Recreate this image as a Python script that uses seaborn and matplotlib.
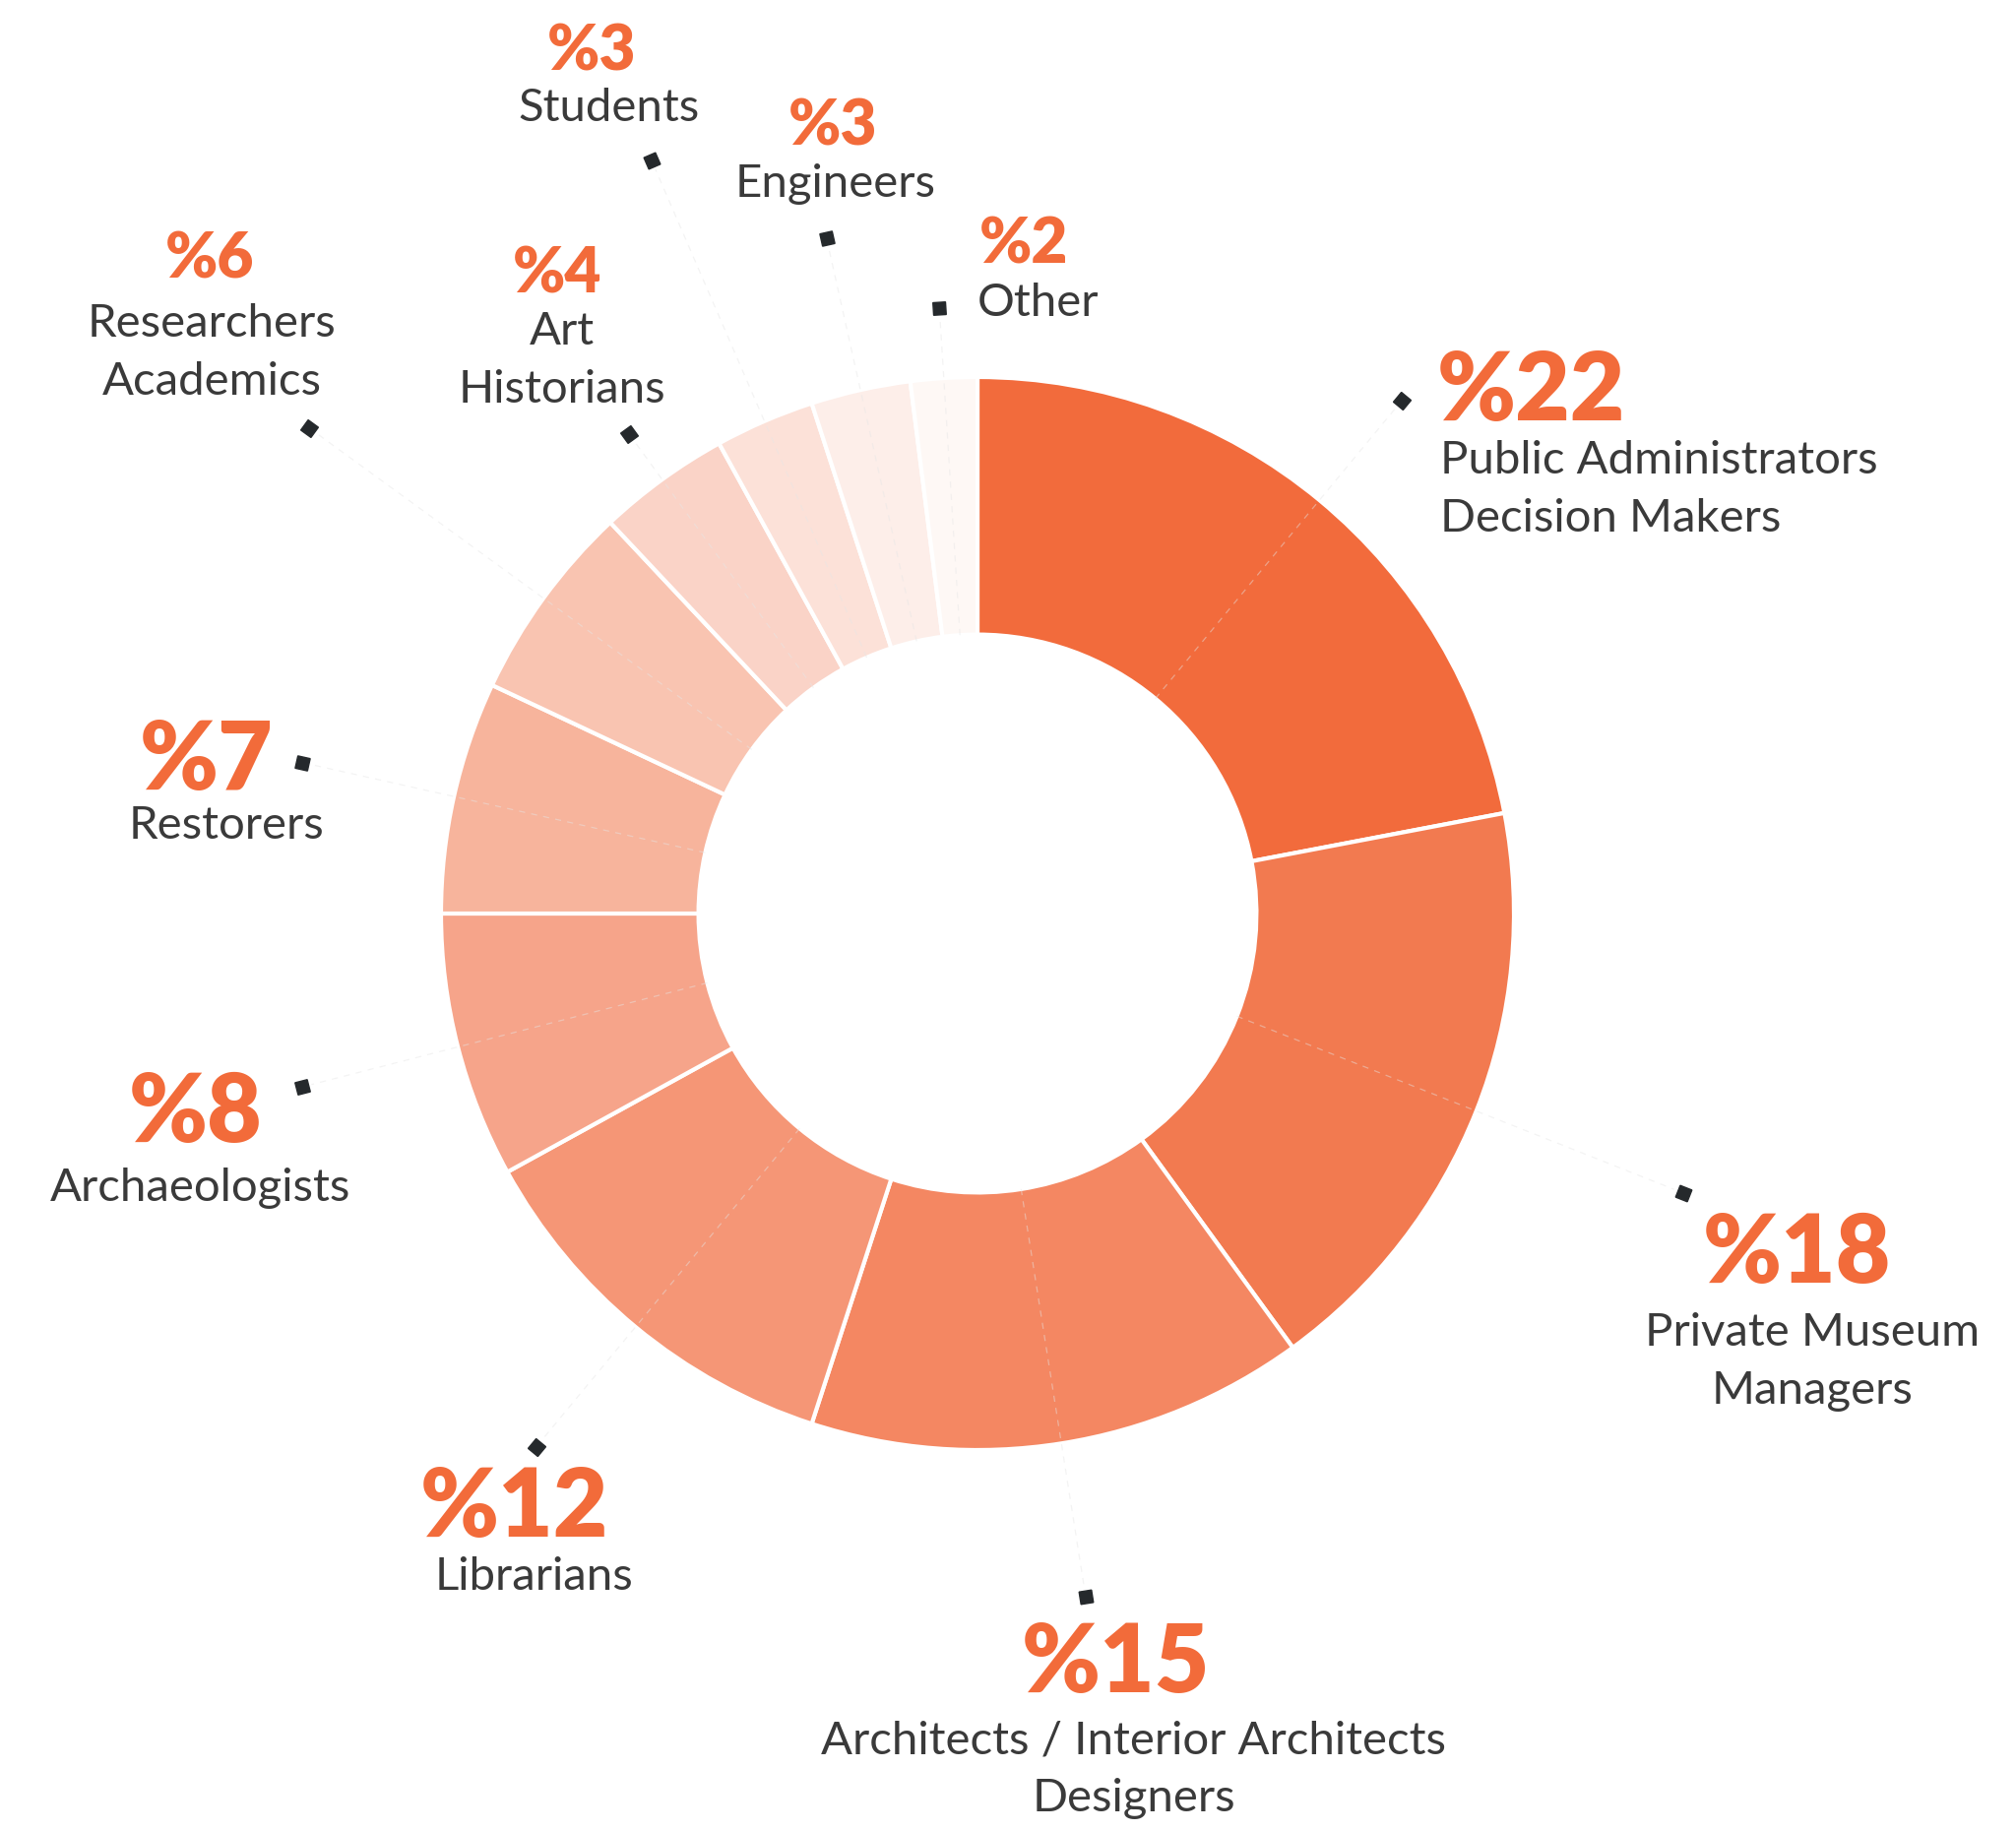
import numpy as np
import matplotlib
matplotlib.use("Agg")
import matplotlib.pyplot as plt
import seaborn as sns

# ---------------- data ----------------
categories = [
    "Public Administrators\nDecision Makers",
    "Private Museum\nManagers",
    "Architects / Interior Architects\nDesigners",
    "Librarians",
    "Archaeologists",
    "Restorers",
    "Researchers\nAcademics",
    "Art\nHistorians",
    "Students",
    "Engineers",
    "Other",
]
values = [22, 18, 15, 12, 8, 7, 6, 4, 3, 3, 2]

# ---------------- style / layout ----------------
colors = ["#F26B3C", "#F27A50", "#F48762", "#F59676", "#F6A48A", "#F7B49C",
          "#F9C4B1", "#FAD3C7", "#FCE1D8", "#FDEEE9", "#FEF8F5"]
W, H = 2048, 1860
CX, CY = 993, 928           # centre in image pixels (top origin)
R = 545
HOLE = 0.52
marker_r = [1.24, 1.415, 1.29, 1.29, 1.30, 1.29, 1.54, 1.105, 1.53, 1.29, 1.13]
pct_pos = [(1460, 427), (1825, 1303), (1133, 1719), (522, 1561), (199, 1160),
           (210, 802), (213, 283), (566, 298), (601, 72), (846, 148), (995, 268)]
lab_pos = [(1463, 481), (1841, 1367), (1152, 1781), (542, 1615), (204, 1220),
           (230, 852), (215, 342), (571, 350), (619, 123), (849, 200), (993, 321)]
align = ["left", "center", "center", "center", "center", "center",
         "center", "center", "center", "center", "left"]
big = [True, True, True, True, True, True, False, False, False, False, False]
LINE_STEP = 59

ORANGE = "#F26B3A"
DARK = "#3A3A3A"

sns.set_theme(style="white")
plt.rcParams["font.family"] = ["Lato", "DejaVu Sans"]

fig = plt.figure(figsize=(W / 100, H / 100), dpi=100)
ax = fig.add_axes([0, 0, 1, 1])

def Y(y):
    return H - y

wedges, _ = ax.pie(
    values, colors=colors, startangle=90, counterclock=False,
    radius=R, center=(CX, Y(CY)),
    wedgeprops=dict(width=R * (1 - HOLE), edgecolor="white", linewidth=3),
)

for i, w in enumerate(wedges):
    mid = np.deg2rad((w.theta1 + w.theta2) / 2)
    r_in = R * HOLE
    r_out = R * marker_r[i]
    xs = [CX + r_in * np.cos(mid), CX + (r_out - 10) * np.cos(mid)]
    ys = [Y(CY) + r_in * np.sin(mid), Y(CY) + (r_out - 10) * np.sin(mid)]
    ax.plot(xs, ys, color="#E6E6E6", lw=0.9, ls=(0, (5, 5)), alpha=0.45, zorder=5)
    ax.plot([CX + r_out * np.cos(mid)], [Y(CY) + r_out * np.sin(mid)],
            marker=(4, 0, 45 + np.rad2deg(mid)), ms=13, color="#25292C",
            ls="none", zorder=6)

for i, v in enumerate(values):
    px, py = pct_pos[i]
    ax.text(px, Y(py), f"%{v}", ha=align[i], va="baseline",
            fontsize=69 if big[i] else 46, fontweight="heavy", color=ORANGE,
            zorder=7)
    lx, ly = lab_pos[i]
    for k, line in enumerate(categories[i].split("\n")):
        ax.text(lx, Y(ly + k * LINE_STEP), line, ha=align[i], va="baseline",
                fontsize=34, fontweight="normal", color=DARK, zorder=7)

ax.set_xlim(0, W)
ax.set_ylim(0, H)
ax.set_aspect("equal")
ax.axis("off")
fig.savefig("out.png", dpi=100, facecolor="white")
